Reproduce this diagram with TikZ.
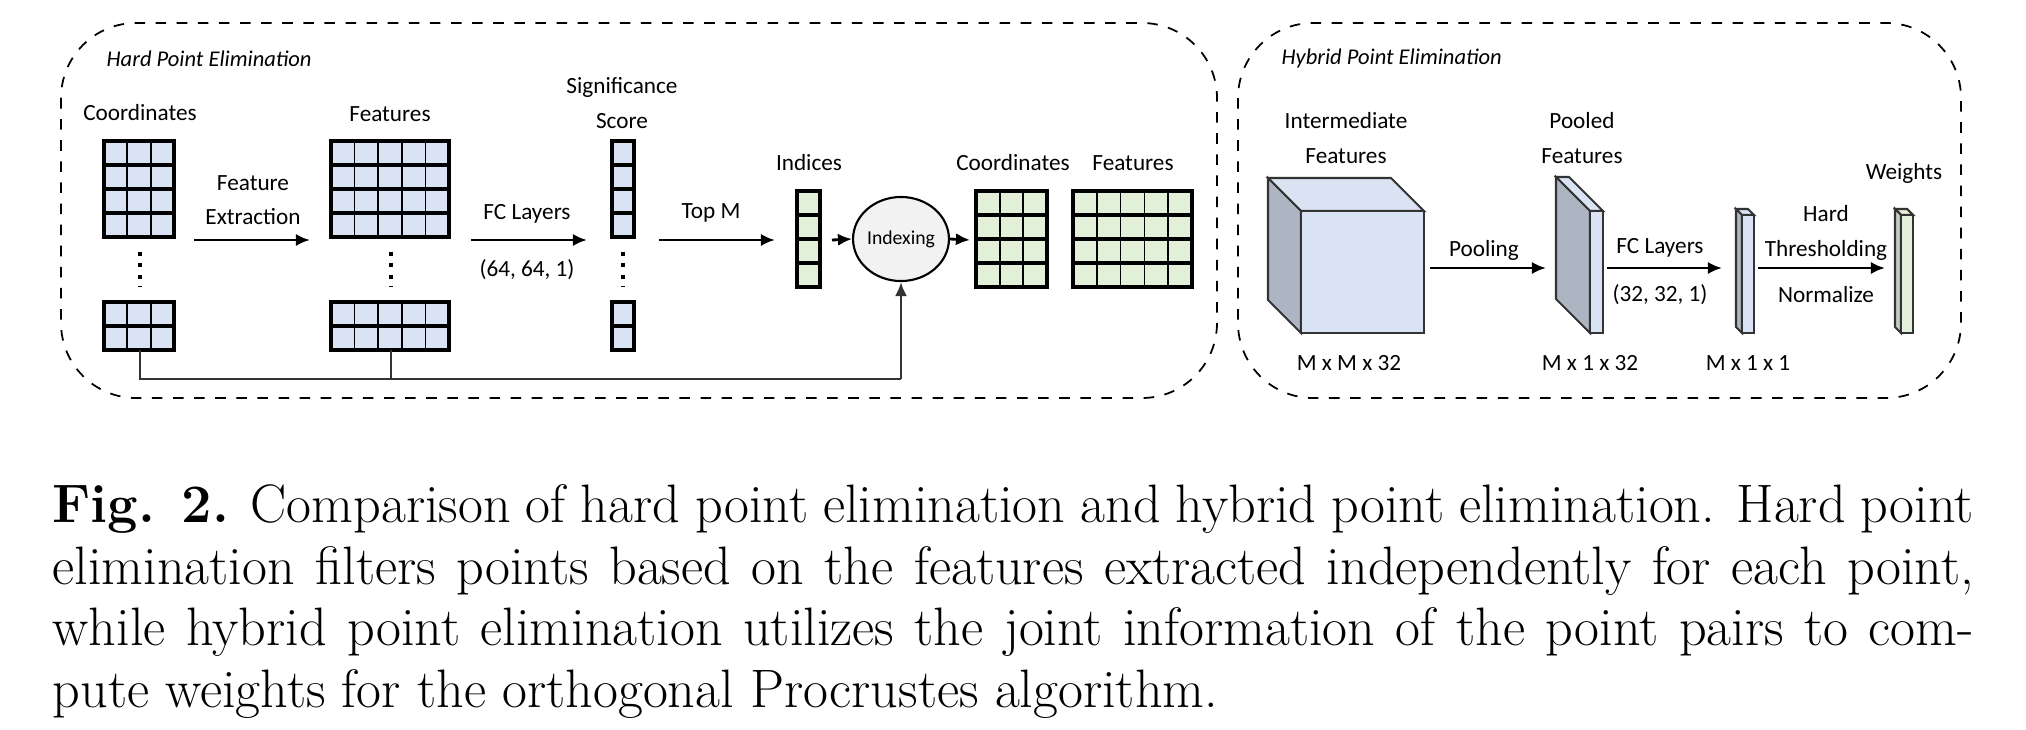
\documentclass[tikz,border=0pt]{standalone}
\usepackage{fontspec}
\usetikzlibrary{arrows.meta,calc,shapes.geometric}
\newfontfamily\diag{Carlito}
\definecolor{cblue}{HTML}{DAE3F3}
\definecolor{cgreen}{HTML}{E2F0D9}
\definecolor{cside}{HTML}{ADB5C3}
\definecolor{cidx}{HTML}{F2F2F2}
% grid of cells: x0 y0 cols rows cellw cellh fill
\newcommand\cellgrid[7]{%
  \fill[#7] (#1,#2) rectangle ++({#3*#5},{#4*#6});
  \foreach \i in {0,...,#3} \draw[line width=0.5pt] ({#1+\i*#5},#2) -- ++(0,{#4*#6});
  \foreach \j in {0,...,#4} \draw[line width=0.9pt] (#1,{#2+\j*#6}) -- ++({#3*#5},0);
  \draw[line width=0.9pt] (#1,#2) rectangle ++({#3*#5},{#4*#6});
}
% box with depth: front x0 y0 x1 y1, offset, front fill, side fill
\newcommand\slab[7]{%
  \filldraw[#6,draw=black!80,line width=0.6pt] (#1,#2) -- ++(#5,#5) -- (#3+#5,#2+#5) -- (#3,#2) -- cycle;
  \filldraw[#7,draw=black!80,line width=0.6pt] (#1,#2) -- (#1+#5,#2+#5) -- (#1+#5,#4+#5) -- (#1,#4) -- cycle;
  \filldraw[#6,draw=black!80,line width=0.6pt] (#1,#2) rectangle (#3,#4);
}
\begin{document}
\begin{tikzpicture}[x=0.01cm,y=-0.01cm,
  lbl/.style={font=\diag\fontsize{6.6}{7.8}\selectfont,align=center,inner sep=0pt},
  ttl/.style={font=\diag\itshape\fontsize{6.4}{7.6}\selectfont,anchor=west,inner sep=0pt},
  flow/.style={-{Latex[length=4pt,width=3.5pt]},line width=0.8pt},
  link/.style={line width=0.8pt,black!80},
  frame/.style={dashed,rounded corners=0.75cm,line width=0.5pt},
  dots/.style={dotted,line width=1.2pt}]
\useasboundingbox (0,0) rectangle (2026,730);
\fill[white] (0,0) rectangle (2026,730);

% ---------- hard point elimination ----------
\draw[frame] (61,23) rectangle (1217,398);
\node[ttl] (t1) at (106,59) {Hard Point Elimination};

\node[lbl] (lc) at (140,113) {Coordinates};
\cellgrid{104}{141}{3}{4}{23.33}{24}{cblue}
\draw[dots] (140,252) -- (140,287);
\cellgrid{104}{302}{3}{2}{23.33}{24}{cblue}
\coordinate (cb) at (140,350);

\node[lbl] (lfe) at (253,200) {Feature\\[2pt]Extraction};
\coordinate (a1s) at (194,240); \coordinate (a1e) at (310,240);
\draw[flow] (a1s) -- (a1e);

\node[lbl] (lf) at (390,114) {Features};
\cellgrid{331}{141}{5}{4}{23.6}{24}{cblue}
\draw[dots] (391,252) -- (391,287);
\cellgrid{331}{302}{5}{2}{23.6}{24}{cblue}
\coordinate (fb) at (391,350);

\node[lbl] (lfc) at (527,214) {FC Layers};
\node[lbl] (lfcn) at (527,270) {(64, 64, 1)};
\coordinate (a2s) at (471,240); \coordinate (a2e) at (587,240);
\draw[flow] (a2s) -- (a2e);

\node[lbl] (ls) at (622,103) {Significance\\[2pt]Score};
\cellgrid{612}{141}{1}{4}{22}{24}{cblue}
\draw[dots] (623,252) -- (623,287);
\cellgrid{612}{302}{1}{2}{22}{24}{cblue}

\node[lbl] (ltm) at (711,213) {Top M};
\coordinate (a3s) at (659,240); \coordinate (a3e) at (775,240);
\draw[flow] (a3s) -- (a3e);

\node[lbl] (li) at (809,163) {Indices};
\cellgrid{797}{191}{1}{4}{23}{24}{cgreen}
\coordinate (ie) at (820,240);

\node[draw,ellipse,fill=cidx,line width=0.6pt,
  minimum width=0.81cm,minimum height=0.84cm,inner sep=0pt,
  font=\diag\fontsize{5.6}{6.6}\selectfont] (idx) at (901,239) {Indexing};
\draw[flow] ($(ie)+(12,0)$) -- (idx.west);

\node[lbl] (loc) at (1013,163) {Coordinates};
\node[lbl] (lof) at (1133,163) {Features};
\cellgrid{976}{191}{3}{4}{23.67}{24}{cgreen}
\cellgrid{1073}{191}{5}{4}{23.8}{24}{cgreen}
\coordinate (oc) at (970,240);
\draw[flow] (idx.east) -- (oc);

\coordinate (bl) at (140,379);
\draw[link] (cb) -- (bl) -- (idx.south |- bl);
\draw[link] (fb) -- (fb |- bl);
\draw[flow,black!80] (idx.south |- bl) -- (idx.south);

% ---------- hybrid point elimination ----------
\draw[frame] (1238,23) rectangle (1961,398);
\node[ttl] (t2) at (1281,58) {Hybrid Point Elimination};

\node[lbl] (lim) at (1346,138) {Intermediate\\[2pt]Features};
\slab{1301}{211}{1424}{333}{-33}{cblue}{cside}
\node[lbl] (lmm) at (1349,363) {M x M x 32};

\node[lbl] (lpo) at (1484,250) {Pooling};
\coordinate (b1s) at (1430,268); \coordinate (b1e) at (1546,268);
\draw[flow] (b1s) -- (b1e);

\node[lbl] (lpf) at (1582,138) {Pooled\\[2pt]Features};
\slab{1590}{211}{1603}{333}{-34}{cblue}{cside}
\node[lbl] (lm1) at (1590,363) {M x 1 x 32};

\node[lbl] (lfc2) at (1660,248) {FC Layers};
\node[lbl] (lfc2n) at (1660,295) {(32, 32, 1)};
\coordinate (b2s) at (1607,268); \coordinate (b2e) at (1722,268);
\draw[flow] (b2s) -- (b2e);

\slab{1742}{215}{1754}{333}{-6}{cblue}{cside}
\node[lbl] (lm2) at (1748,363) {M x 1 x 1};

\node[lbl] (lht) at (1826,233) {Hard\\[2pt]Thresholding};
\node[lbl] (lno) at (1826,295) {Normalize};
\coordinate (b3s) at (1758,268); \coordinate (b3e) at (1885,268);
\draw[flow] (b3s) -- (b3e);

\slab{1901}{215}{1913}{333}{-6}{cgreen}{cgreen!70!gray}
\node[lbl] (lw) at (1904,173) {Weights};

% ---------- caption ----------
\node[anchor=north west,inner sep=0pt,text width=19.2cm,align=justify,
  font=\fontsize{15.4}{17.5}\selectfont] (cap) at (52,484)
  {\textbf{Fig. 2.} Comparison of hard point elimination and hybrid point elimination. Hard point\linebreak
  elimination filters points based on the features extracted independently for each point,\linebreak
  while hybrid point elimination utilizes the joint information of the point pairs to com-\linebreak
  pute weights for the orthogonal Procrustes algorithm.};
\end{tikzpicture}
\end{document}
